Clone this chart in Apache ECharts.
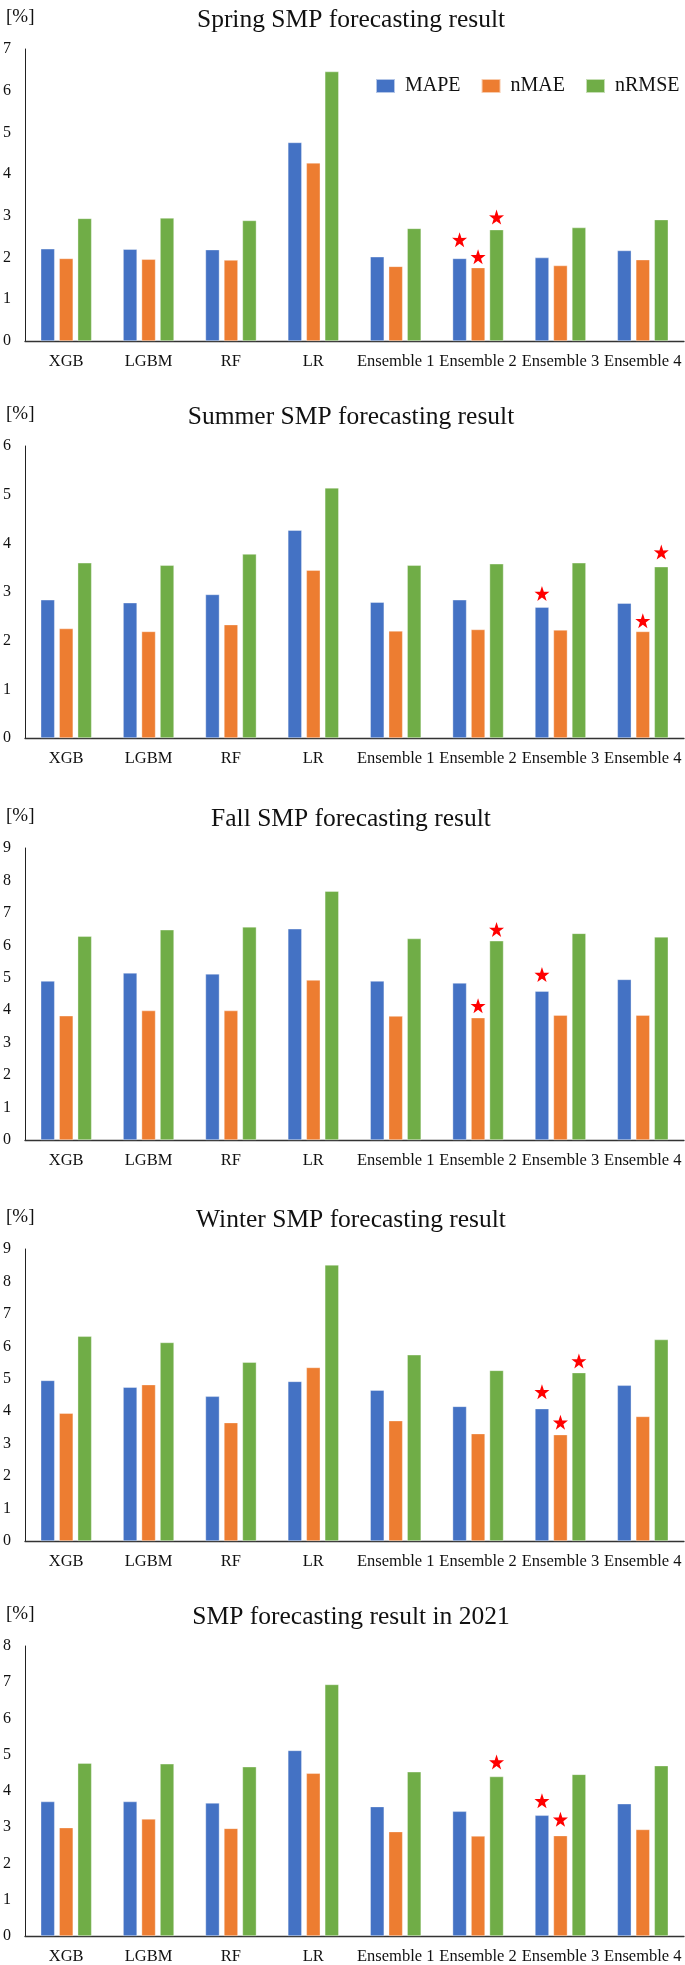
<!DOCTYPE html>
<html>
<head>
<meta charset="utf-8">
<script src="https://cdn.jsdelivr.net/npm/echarts@6/dist/echarts.min.js"></script>
<style>
html,body{margin:0;padding:0;background:#fff;}
#chart{width:685px;height:1965px;}
</style>
</head>
<body>
<div id="chart"></div>
<script>
// ---- data ----
const categories = ['XGB', 'LGBM', 'RF', 'LR', 'Ensemble 1', 'Ensemble 2', 'Ensemble 3', 'Ensemble 4'];
const metrics = ['MAPE', 'nMAE', 'nRMSE'];
const panelTitles = ['Spring SMP forecasting result', 'Summer SMP forecasting result', 'Fall SMP forecasting result', 'Winter SMP forecasting result', 'SMP forecasting result in 2021'];
const yMax = [7, 6, 9, 9, 8];
const unitLabel = '[%]';

const springMAPE  = [2.21, 2.20, 2.19, 4.76, 2.02, 1.98, 2.00, 2.17];
const springNMAE  = [1.98, 1.96, 1.94, 4.27, 1.79, 1.76, 1.81, 1.95];
const springNRMSE = [2.94, 2.95, 2.89, 6.46, 2.70, 2.67, 2.72, 2.91];

const summerMAPE  = [2.84, 2.78, 2.95, 4.27, 2.79, 2.84, 2.69, 2.77];
const summerNMAE  = [2.25, 2.19, 2.33, 3.45, 2.20, 2.23, 2.22, 2.19];
const summerNRMSE = [3.60, 3.55, 3.78, 5.14, 3.55, 3.58, 3.60, 3.52];

const fallMAPE  = [4.90, 5.15, 5.12, 6.51, 4.90, 4.84, 4.59, 4.95];
const fallNMAE  = [3.83, 3.99, 3.99, 4.93, 3.82, 3.77, 3.85, 3.85];
const fallNRMSE = [6.28, 6.48, 6.57, 7.67, 6.21, 6.14, 6.37, 6.26];

const winterMAPE  = [4.95, 4.74, 4.46, 4.92, 4.65, 4.15, 4.08, 4.80];
const winterNMAE  = [3.94, 4.82, 3.65, 5.35, 3.71, 3.31, 3.28, 3.84];
const winterNRMSE = [6.31, 6.12, 5.51, 8.51, 5.74, 5.26, 5.19, 6.21];

const year2021MAPE  = [3.71, 3.71, 3.67, 5.12, 3.57, 3.44, 3.33, 3.65];
const year2021NMAE  = [2.99, 3.23, 2.97, 4.49, 2.88, 2.76, 2.77, 2.94];
const year2021NRMSE = [4.77, 4.75, 4.67, 6.94, 4.53, 4.40, 4.46, 4.70];

// best-result stars: [panel, metric, category, level]
const stars = [
  [0, 0, 5, 2.43], [0, 1, 5, 2.02], [0, 2, 5, 2.97],
  [1, 0, 6, 2.97], [1, 1, 7, 2.41], [1, 2, 7, 3.82],
  [2, 1, 5, 4.14], [2, 2, 5, 6.49], [2, 0, 6, 5.10],
  [3, 0, 6, 4.60], [3, 1, 6, 3.66], [3, 2, 6, 5.55],
  [4, 2, 5, 4.80], [4, 0, 6, 3.73], [4, 1, 6, 3.22]
];

const panels = [
  [springMAPE, springNMAE, springNRMSE],
  [summerMAPE, summerNMAE, summerNRMSE],
  [fallMAPE, fallNMAE, fallNRMSE],
  [winterMAPE, winterNMAE, winterNRMSE],
  [year2021MAPE, year2021NMAE, year2021NRMSE]
];

// ---- layout / style ----
const FONT = "'Liberation Serif', 'Times New Roman', serif";
const colors = ['#4472C4', '#ED7D31', '#70AD47'];
const panelBase = [0, 397, 799, 1200, 1597];
const STAR = 'path://M50,0 L61.8,35.1 L97.6,34.5 L68.7,56.7 L79.4,90.5 L50,70 L20.6,90.5 L31.3,56.7 L2.4,34.5 L38.2,35.1 Z';

const grids = [], xAxes = [], yAxes = [], series = [], titles = [];
panels.forEach((pd, p) => {
  const b = panelBase[p];
  titles.push({
    text: panelTitles[p], left: 346, top: b + 2, textAlign: 'center',
    textStyle: {fontFamily: FONT, fontSize: 25.5, fontWeight: 'normal', color: '#111'}
  });
  titles.push({
    text: unitLabel, left: 1, top: b + 3,
    textStyle: {fontFamily: FONT, fontSize: 19, fontWeight: 'normal', color: '#111'}
  });
  grids.push({left: 23.5, right: 1, top: b + 49, height: 292});
  xAxes.push({
    type: 'category', gridIndex: p, data: categories,
    axisTick: {show: false},
    axisLine: {lineStyle: {color: '#333', width: 1.3}},
    axisLabel: {interval: 0, fontFamily: FONT, fontSize: 16.5, color: '#111', margin: 12}
  });
  yAxes.push({
    type: 'value', gridIndex: p, min: 0, max: yMax[p], interval: 1,
    splitLine: {show: false},
    axisTick: {show: false},
    axisLine: {show: true, lineStyle: {color: '#222', width: 1}},
    axisLabel: {fontFamily: FONT, fontSize: 16, color: '#111', margin: 14}
  });
  pd.forEach((vals, m) => {
    const mp = stars.filter(s => s[0] === p && s[1] === m).map(s => ({coord: [categories[s[2]], s[3]]}));
    series.push({
      name: metrics[m], type: 'bar', xAxisIndex: p, yAxisIndex: p,
      data: vals, barWidth: 14, barGap: '32%',
      itemStyle: {color: colors[m], borderColor: 'rgba(255,255,255,0.6)', borderWidth: 0.6},
      markPoint: mp.length ? {
        symbol: STAR, symbolSize: [15, 15], silent: true,
        itemStyle: {color: '#FF0000'}, label: {show: false}, data: mp
      } : undefined
    });
  });
});

const chart = echarts.init(document.getElementById('chart'), null, {renderer: 'canvas'});
chart.setOption({
  animation: false,
  backgroundColor: '#fff',
  title: titles,
  legend: {
    data: metrics, left: 370, top: 71, width: 400, orient: 'horizontal',
    icon: 'rect', itemWidth: 19, itemHeight: 14, itemGap: 20,
    textStyle: {fontFamily: FONT, fontSize: 20, color: '#111', padding: [0, 0, 0, 5]}
  },
  grid: grids, xAxis: xAxes, yAxis: yAxes, series: series
});
</script>
</body>
</html>
